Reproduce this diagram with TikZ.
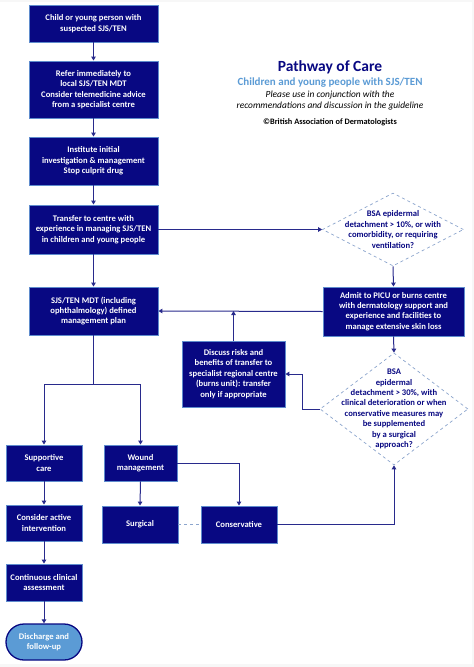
\documentclass[tikz,border=0pt]{standalone}
\usepackage{fontspec}
\setmainfont{Carlito}
\usetikzlibrary{arrows.meta,shapes.geometric}
\definecolor{navybox}{RGB}{8,8,130}
\definecolor{edgeblue}{RGB}{95,140,205}
\definecolor{linkblue}{RGB}{40,42,140}
\definecolor{skyblue}{RGB}{91,155,213}
\definecolor{dashblue}{RGB}{140,165,205}
\begin{document}
\begin{tikzpicture}[x=1pt,y=-1pt,
    stepbox/.style={draw=edgeblue, line width=0.9pt, fill=navybox, text=white,
        font=\fontsize{8.6}{10.4}\selectfont\bfseries, align=center, inner sep=0pt},
    decision/.style={diamond, draw=dashblue, dashed, line width=0.7pt, inner sep=0pt},
    dtext/.style={text=navybox, font=\fontsize{8.6}{10.4}\selectfont\bfseries, align=center},
    link/.style={draw=linkblue, line width=1pt, -{Triangle[length=4pt,width=4.5pt]}},
    plain/.style={draw=linkblue, line width=1pt}]
    % page
    \useasboundingbox (0,0) rectangle (474,667);
    \fill[gray!6] (0,0) rectangle (474,667);
    \fill[white] (0,2) rectangle (472,664);

    % heading
    \node[text=navybox, font=\fontsize{15.5}{18}\selectfont\bfseries] (title) at (330,67) {Pathway of Care};
    \node[text=skyblue, font=\fontsize{11}{13}\selectfont\bfseries] (subtitle) at (330,83) {Children and young people with SJS/TEN};
    \node[font=\fontsize{9.4}{11}\selectfont\itshape, align=center] (note) at (330,100.5) {Please use in conjunction with the\\recommendations and discussion in the guideline};
    \node[font=\fontsize{8.3}{10}\selectfont\bfseries] (copy) at (330,122) {©British Association of Dermatologists};

    % main column
    \node[stepbox, minimum width=129pt, minimum height=37pt] (suspect) at (93.5,23.5) {Child or young person with\\suspected SJS/TEN};
    \node[stepbox, minimum width=129pt, minimum height=57pt] (refer) at (93.5,89.5) {Refer immediately to\\local SJS/TEN MDT\\Consider telemedicine advice\\from a specialist centre};
    \node[stepbox, minimum width=129pt, minimum height=48pt] (initial) at (93.5,161) {Institute initial\\investigation \& management\\Stop culprit drug};
    \node[stepbox, minimum width=129pt, minimum height=49pt] (transfer) at (93.5,229.5) {Transfer to centre with\\experience in managing SJS/TEN\\in children and young people};
    \node[stepbox, minimum width=129pt, minimum height=48pt] (mdt) at (93.5,311) {SJS/TEN MDT (including\\ophthalmology) defined\\management plan};

    % right branch
    \node[decision, minimum width=141pt, minimum height=73pt] (bsa1) at (393,229.5) {};
    \node[dtext] at (bsa1) {BSA epidermal\\detachment > 10\%, or with\\comorbidity, or requiring\\ventilation?};
    \node[stepbox, minimum width=141pt, minimum height=49pt] (admit) at (393.5,311.5) {Admit to PICU or burns centre\\with dermatology support and\\experience and facilities to\\manage extensive skin loss};
    \node[decision, minimum width=148pt, minimum height=112pt] (bsa2) at (394,409) {};
    \node[dtext] at (bsa2) {BSA\\epidermal\\detachment > 30\%, with\\clinical deterioration or when\\conservative measures may\\be supplemented\\by a surgical\\approach?};
    \node[stepbox, minimum width=103pt, minimum height=66pt] (discuss) at (233.5,374) {Discuss risks and\\benefits of transfer to\\specialist regional centre\\(burns unit): transfer\\only if appropriate};

    % lower branches
    \node[stepbox, minimum width=76pt, minimum height=36pt] (support) at (44,463) {Supportive\\care};
    \node[stepbox, minimum width=73pt, minimum height=36pt] (wound) at (140.5,463) {Wound\\management};
    \node[stepbox, minimum width=76pt, minimum height=36pt] (active) at (44,523) {Consider active\\intervention};
    \node[stepbox, minimum width=76pt, minimum height=37pt] (surgical) at (140,524.5) {Surgical};
    \node[stepbox, minimum width=76pt, minimum height=37pt] (conserv) at (239,524.5) {Conservative};
    \node[stepbox, minimum width=76pt, minimum height=37pt] (assess) at (44,582.5) {Continuous clinical\\assessment};
    \node[stepbox, rounded corners=18pt, fill=skyblue, draw=navybox, line width=1.3pt,
        minimum width=76pt, minimum height=36pt] (discharge) at (44,642) {Discharge and\\follow-up};

    % connectors
    \draw[link] (suspect) -- (refer);
    \draw[link] (refer) -- (initial);
    \draw[link] (initial) -- (transfer);
    \draw[link] (transfer) -- (mdt);
    \draw[link] (transfer.east) -- (bsa1.west);
    \draw[link] (bsa1.south) -- (admit.north);
    \draw[link] (admit.south) -- (bsa2.north);
    \draw[link] (admit.west) -- (mdt.east);
    \coordinate (join) at (discuss.north |- mdt.east);
    \draw[link] (discuss.north) -- (join);
    \draw[link] (bsa2.west) -- (302,409) |- (discuss.east);

    \coordinate (split) at (93.5,384);
    \draw[plain] (mdt.south) -- (split);
    \draw[link] (split) -| (support.north);
    \draw[link] (split) -| (wound.north);
    \draw[link] (wound.south) -- (surgical.north);
    \draw[link] (wound.east) -| (conserv.north);
    \draw[draw=dashblue, line width=1.2pt, dashed] (surgical.east) -- (conserv.west);
    \draw[link] (conserv.east) -| (bsa2.south);
    \draw[link] (support) -- (active);
    \draw[link] (active) -- (assess);
    \draw[link] (assess) -- (discharge);
\end{tikzpicture}
\end{document}
